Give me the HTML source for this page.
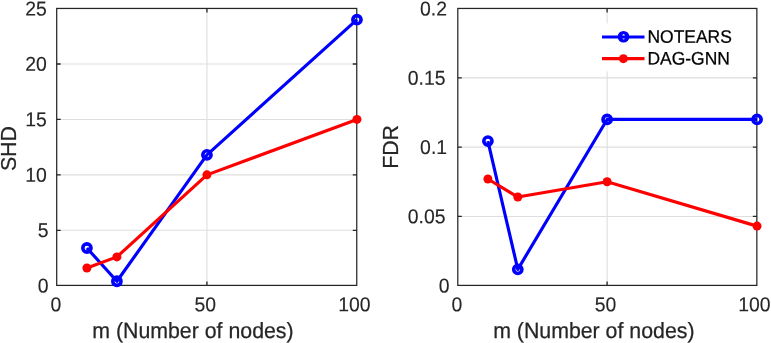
<!DOCTYPE html>
<html lang="en"><head><meta charset="utf-8"><title>SHD and FDR vs number of nodes</title>
<style>html,body{margin:0;padding:0;background:#fff;overflow:hidden}svg{display:block}</style></head>
<body>
<svg width="771" height="343" viewBox="0 0 771 343" font-family="'Liberation Sans', Arial, Helvetica, sans-serif" fill="#262626">
<style>text{stroke:#262626;stroke-width:0.12px;stroke-linejoin:round}text.lb{stroke-width:0.25px}#legend text{stroke:#000;stroke-width:0.25px}</style>
<rect width="771" height="343" fill="#fff"/>
<g id="axes-L">
<path d="M206.93 8.45V285.4M56.7 230.28H356.75M56.7 174.86H356.75M56.7 119.44H356.75M56.7 64.02H356.75" stroke="#dedede" stroke-width="1.1" fill="none"/>
<rect x="56.7" y="8.45" width="300.05" height="276.95" fill="none" stroke="#262626" stroke-width="1.25"/>
<path d="M206.93 285.4v-4.0M206.93 8.45v4.0M56.7 230.28h4.0M356.75 230.28h-4.0M56.7 174.86h4.0M356.75 174.86h-4.0M56.7 119.44h4.0M356.75 119.44h-4.0M56.7 64.02h4.0M356.75 64.02h-4.0" stroke="#262626" stroke-width="1.3" fill="none"/>
<text font-size="20.1" text-anchor="middle" transform="translate(55.9 311.35) rotate(0.03) scale(0.965 1)">0</text>
<text font-size="20.1" text-anchor="middle" transform="translate(205.2 311.35) rotate(0.03) scale(0.965 1)">50</text>
<text font-size="20.1" text-anchor="middle" transform="translate(354.4 311.35) rotate(0.03) scale(0.965 1)">100</text>
<text font-size="20.1" text-anchor="end" transform="translate(48.45 292.55) rotate(0.03) scale(0.965 1)">0</text>
<text font-size="20.1" text-anchor="end" transform="translate(48.45 237.13) rotate(0.03) scale(0.965 1)">5</text>
<text font-size="20.1" text-anchor="end" transform="translate(46.7 181.71) rotate(0.03) scale(0.965 1)">10</text>
<text font-size="20.1" text-anchor="end" transform="translate(46.7 126.29) rotate(0.03) scale(0.965 1)">15</text>
<text font-size="20.1" text-anchor="end" transform="translate(46.7 70.87) rotate(0.03) scale(0.965 1)">20</text>
<text font-size="20.1" text-anchor="end" transform="translate(46.7 15.45) rotate(0.03) scale(0.965 1)">25</text>
<text class="lb" font-size="22.1" text-anchor="middle" transform="translate(192.9 338) rotate(0.03) scale(0.965 1)">m (Number of nodes)</text>
<text class="lb" transform="translate(15.8 148.6) rotate(-90) scale(0.965 1)" font-size="22.1" text-anchor="middle">SHD</text>
<polyline points="86.91,248.01 116.91,281.27 206.93,154.91 356.95,19.68" fill="none" stroke="#0000ff" stroke-width="3.15" stroke-linejoin="round"/>
<circle cx="86.91" cy="248.01" r="4.1" fill="none" stroke="#0000ff" stroke-width="3.6"/>
<circle cx="116.91" cy="281.27" r="4.1" fill="none" stroke="#0000ff" stroke-width="3.6"/>
<circle cx="206.93" cy="154.91" r="4.1" fill="none" stroke="#0000ff" stroke-width="3.6"/>
<circle cx="356.95" cy="19.68" r="4.1" fill="none" stroke="#0000ff" stroke-width="3.6"/>
<polyline points="86.91,267.97 116.91,256.88 206.93,174.86 356.95,119.44" fill="none" stroke="#ff0000" stroke-width="3.15" stroke-linejoin="round"/>
<circle cx="86.91" cy="267.97" r="4.5" fill="#ff0000"/>
<circle cx="116.91" cy="256.88" r="4.5" fill="#ff0000"/>
<circle cx="206.93" cy="174.86" r="4.5" fill="#ff0000"/>
<circle cx="356.95" cy="119.44" r="4.5" fill="#ff0000"/>
</g>
<g id="axes-R">
<path d="M607.1 8.45V285.4M457.8 216.43H756.85M457.8 147.15H756.85M457.8 77.88H756.85" stroke="#dedede" stroke-width="1.1" fill="none"/>
<rect x="457.8" y="8.45" width="299.05" height="276.95" fill="none" stroke="#262626" stroke-width="1.25"/>
<path d="M607.1 285.4v-4.0M607.1 8.45v4.0M457.8 216.43h4.0M756.85 216.43h-4.0M457.8 147.15h4.0M756.85 147.15h-4.0M457.8 77.88h4.0M756.85 77.88h-4.0" stroke="#262626" stroke-width="1.3" fill="none"/>
<text font-size="20.1" text-anchor="middle" transform="translate(456.9 311.35) rotate(0.03) scale(0.965 1)">0</text>
<text font-size="20.1" text-anchor="middle" transform="translate(605.6 311.35) rotate(0.03) scale(0.965 1)">50</text>
<text font-size="20.1" text-anchor="middle" transform="translate(754.3 311.35) rotate(0.03) scale(0.965 1)">100</text>
<text font-size="20.1" text-anchor="end" transform="translate(449.5 292.55) rotate(0.03) scale(0.965 1)">0</text>
<text font-size="20.1" text-anchor="end" transform="translate(445.5 223.28) rotate(0.03) scale(0.965 1)">0.05</text>
<text font-size="20.1" text-anchor="end" transform="translate(447.1 154) rotate(0.03) scale(0.965 1)">0.1</text>
<text font-size="20.1" text-anchor="end" transform="translate(445.5 84.73) rotate(0.03) scale(0.965 1)">0.15</text>
<text font-size="20.1" text-anchor="end" transform="translate(447 15.45) rotate(0.03) scale(0.965 1)">0.2</text>
<text class="lb" font-size="22.1" text-anchor="middle" transform="translate(593.8 338) rotate(0.03) scale(0.965 1)">m (Number of nodes)</text>
<text class="lb" transform="translate(397.65 146.9) rotate(-90) scale(0.965 1)" font-size="22.1" text-anchor="middle">FDR</text>
<polyline points="487.9,141.05 517.81,269.35 607.1,119.44 757.05,119.44" fill="none" stroke="#0000ff" stroke-width="3.15" stroke-linejoin="round"/>
<circle cx="487.9" cy="141.05" r="4.1" fill="none" stroke="#0000ff" stroke-width="3.6"/>
<circle cx="517.81" cy="269.35" r="4.1" fill="none" stroke="#0000ff" stroke-width="3.6"/>
<circle cx="607.1" cy="119.44" r="4.1" fill="none" stroke="#0000ff" stroke-width="3.6"/>
<circle cx="757.05" cy="119.44" r="4.1" fill="none" stroke="#0000ff" stroke-width="3.6"/>
<polyline points="487.9,179.02 517.81,197.03 607.1,181.79 757.05,226.12" fill="none" stroke="#ff0000" stroke-width="3.15" stroke-linejoin="round"/>
<circle cx="487.9" cy="179.02" r="4.5" fill="#ff0000"/>
<circle cx="517.81" cy="197.03" r="4.5" fill="#ff0000"/>
<circle cx="607.1" cy="181.79" r="4.5" fill="#ff0000"/>
<circle cx="757.05" cy="226.12" r="4.5" fill="#ff0000"/>
</g>
<g id="legend" fill="#000">
<rect x="598.5" y="23.5" width="140" height="48" fill="#fff"/>
<circle cx="623.5" cy="36.75" r="5.85" fill="#0000ff"/>
<ellipse cx="623.6" cy="36.75" rx="1.45" ry="2.75" fill="#fff"/>
<path d="M602 36.95H644.5" stroke="#0000ff" stroke-width="3.15"/>
<path d="M602 58.6H644.5" stroke="#ff0000" stroke-width="3.15"/>
<circle cx="623.4" cy="58.65" r="4.5" fill="#ff0000"/>
<text font-size="18.1" text-anchor="start" transform="translate(647.5 42.7) rotate(0.03) scale(0.965 1)">NOTEARS</text>
<text font-size="18.1" text-anchor="start" transform="translate(647.5 64.4) rotate(0.03) scale(0.965 1)">DAG-GNN</text>
</g>
</svg>
</body></html>
